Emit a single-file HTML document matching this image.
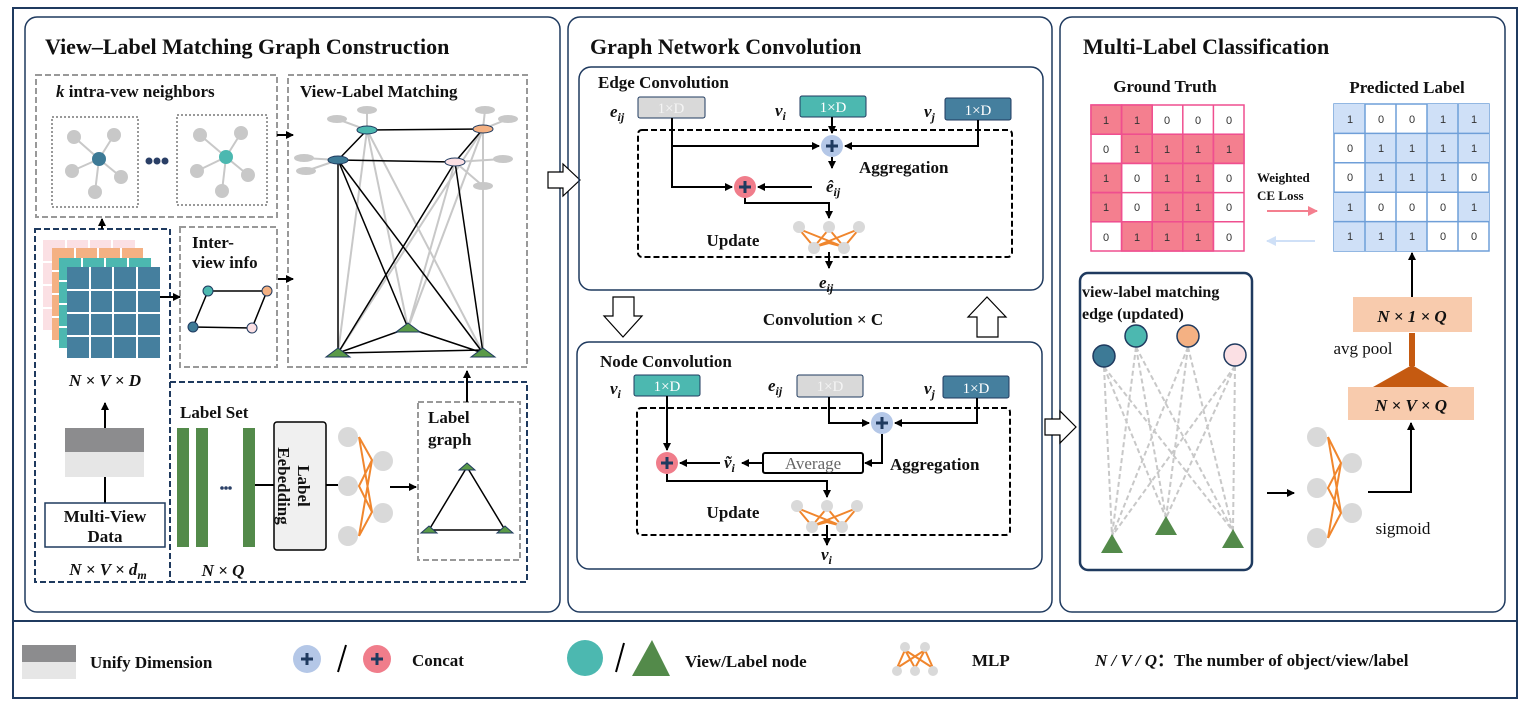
<!DOCTYPE html>
<html><head><meta charset="utf-8"><style>
body{margin:0;background:#fff}
svg{display:block}
text{font-family:"Liberation Serif",serif;font-weight:bold;fill:#111}
.t{font-size:22px}
.s{font-size:17px}
.it{font-style:italic}
.n{font-family:"Liberation Sans",sans-serif;font-weight:normal;font-size:11px;fill:#333}
</style></head><body>
<svg width="1527" height="728" viewBox="0 0 1527 728" xmlns="http://www.w3.org/2000/svg">
<defs>
<marker id="a" markerWidth="8" markerHeight="8" refX="7" refY="4" orient="auto" markerUnits="userSpaceOnUse"><path d="M0,0 L8,4 L0,8 z" fill="#000"/></marker>
<marker id="ap" markerWidth="10" markerHeight="10" refX="9" refY="5" orient="auto" markerUnits="userSpaceOnUse"><path d="M0,0 L10,5 L0,10 z" fill="#f47f8f"/></marker>
<marker id="ab" markerWidth="10" markerHeight="10" refX="9" refY="5" orient="auto" markerUnits="userSpaceOnUse"><path d="M0,0 L10,5 L0,10 z" fill="#cfe0f7"/></marker>
<g id="mlph">
<g stroke="#f0862d" stroke-width="2" fill="none"><path d="M-30,0 L-15,18 L0,0 L15,18 L30,0 M-30,0 L15,18 M30,0 L-15,18 M-15,18 L0,14 L15,18"/></g>
<g fill="#d9d9d9"><circle cx="-30" cy="-2" r="6"/><circle cx="0" cy="-2" r="6"/><circle cx="30" cy="-2" r="6"/><circle cx="-15" cy="19" r="6"/><circle cx="15" cy="19" r="6"/></g>
</g>
<path id="pl" d="M-6,-1.5 H-1.5 V-6 H1.5 V-1.5 H6 V1.5 H1.5 V6 H-1.5 V1.5 H-6 z" fill="#1f3a5f"/>
</defs>
<rect x="13" y="8" width="1504" height="690" fill="none" stroke="#1f3a5f" stroke-width="2"/>
<line x1="13" y1="621" x2="1517" y2="621" stroke="#1f3a5f" stroke-width="2"/>
<rect x="25" y="17" width="535" height="595" rx="12" fill="none" stroke="#1f3a5f" stroke-width="1.5"/>
<rect x="568" y="17" width="484" height="595" rx="12" fill="none" stroke="#1f3a5f" stroke-width="1.5"/>
<rect x="1060" y="17" width="445" height="595" rx="12" fill="none" stroke="#1f3a5f" stroke-width="1.5"/>
<text class="t" x="45" y="54">View–Label Matching Graph Construction</text>
<text class="t" x="590" y="54">Graph Network Convolution</text>
<text class="t" x="1083" y="54">Multi-Label Classification</text>

<!-- ===== PANEL 1 ===== -->
<rect x="36" y="75" width="241" height="142" fill="none" stroke="#999" stroke-width="2" stroke-dasharray="6,3"/>
<text class="s" x="56" y="97"><tspan class="it">k</tspan> intra-vew neighbors</text>
<rect x="52" y="117" width="86" height="90" fill="none" stroke="#999" stroke-width="2" stroke-dasharray="2,2"/>
<rect x="177" y="115" width="90" height="90" fill="none" stroke="#999" stroke-width="2" stroke-dasharray="2,2"/>
<g stroke="#c8c8c8" stroke-width="2">
<line x1="99" y1="159" x2="74" y2="137"/><line x1="99" y1="159" x2="114" y2="135"/><line x1="99" y1="159" x2="72" y2="171"/><line x1="99" y1="159" x2="121" y2="177"/><line x1="99" y1="159" x2="95" y2="192"/>
<line x1="226" y1="157" x2="200" y2="135"/><line x1="226" y1="157" x2="241" y2="133"/><line x1="226" y1="157" x2="197" y2="171"/><line x1="226" y1="157" x2="248" y2="175"/><line x1="226" y1="157" x2="222" y2="191"/>
</g>
<g fill="#c8c8c8">
<circle cx="74" cy="137" r="7"/><circle cx="114" cy="135" r="7"/><circle cx="72" cy="171" r="7"/><circle cx="121" cy="177" r="7"/><circle cx="95" cy="192" r="7"/>
<circle cx="200" cy="135" r="7"/><circle cx="241" cy="133" r="7"/><circle cx="197" cy="171" r="7"/><circle cx="248" cy="175" r="7"/><circle cx="222" cy="191" r="7"/>
</g>
<circle cx="99" cy="159" r="7" fill="#3d7a96"/><circle cx="226" cy="157" r="7" fill="#4cb8b0"/>
<g fill="#2a3f66"><circle cx="149" cy="161" r="3.5"/><circle cx="157" cy="161" r="3.5"/><circle cx="165" cy="161" r="3.5"/></g>

<rect x="288" y="75" width="239" height="292" fill="none" stroke="#999" stroke-width="2" stroke-dasharray="6,3"/>
<text class="s" x="300" y="97">View-Label Matching</text>
<g stroke="#c8c8c8" stroke-width="2">
<line x1="367" y1="130" x2="367" y2="110"/><line x1="367" y1="130" x2="337" y2="119"/><line x1="338" y1="160" x2="304" y2="158"/><line x1="338" y1="160" x2="306" y2="171"/>
<line x1="483" y1="129" x2="485" y2="110"/><line x1="483" y1="129" x2="508" y2="119"/><line x1="455" y1="162" x2="503" y2="159"/><line x1="455" y1="162" x2="483" y2="186"/>
<line x1="367" y1="130" x2="338" y2="353"/><line x1="367" y1="130" x2="408" y2="328"/><line x1="367" y1="130" x2="483" y2="353"/>
<line x1="483" y1="129" x2="338" y2="353"/><line x1="483" y1="129" x2="408" y2="328"/><line x1="483" y1="129" x2="483" y2="353"/>
<line x1="455" y1="162" x2="408" y2="328"/>
</g>
<g fill="#c8c8c8">
<ellipse cx="367" cy="110" rx="10" ry="4"/><ellipse cx="337" cy="119" rx="10" ry="4"/><ellipse cx="304" cy="158" rx="10" ry="4"/><ellipse cx="306" cy="171" rx="10" ry="4"/>
<ellipse cx="485" cy="110" rx="10" ry="4"/><ellipse cx="508" cy="119" rx="10" ry="4"/><ellipse cx="503" cy="159" rx="10" ry="4"/><ellipse cx="483" cy="186" rx="10" ry="4"/>
</g>
<g stroke="#000" stroke-width="1.5">
<line x1="367" y1="130" x2="483" y2="129"/><line x1="338" y1="160" x2="455" y2="162"/><line x1="367" y1="130" x2="338" y2="160"/><line x1="483" y1="129" x2="455" y2="162"/>
<line x1="338" y1="160" x2="338" y2="353"/><line x1="338" y1="160" x2="408" y2="328"/><line x1="338" y1="160" x2="483" y2="353"/>
<line x1="455" y1="162" x2="338" y2="353"/><line x1="455" y1="162" x2="483" y2="353"/>
<line x1="338" y1="353" x2="408" y2="328"/><line x1="408" y1="328" x2="483" y2="353"/><line x1="338" y1="353" x2="483" y2="350"/>
</g>
<g stroke="#1f3a5f" stroke-width="1">
<ellipse cx="367" cy="130" rx="10" ry="4" fill="#4cb8b0"/><ellipse cx="483" cy="129" rx="10" ry="4" fill="#f4b183"/>
<ellipse cx="338" cy="160" rx="10" ry="4" fill="#3d7a96"/><ellipse cx="455" cy="162" rx="10" ry="4" fill="#fbe0e4"/>
<path d="M338,348 L350,357 L326,357 z" fill="#5a9a48"/><path d="M408,323 L420,332 L396,332 z" fill="#5a9a48"/><path d="M483,348 L495,357 L471,357 z" fill="#5a9a48"/>
</g>
<line x1="277" y1="135" x2="293" y2="135" stroke="#000" stroke-width="2" marker-end="url(#a)"/>
<line x1="277" y1="279" x2="293" y2="279" stroke="#000" stroke-width="2" marker-end="url(#a)"/>

<path d="M35,229 H170 V582 H35 z" fill="none" stroke="#1f3a5f" stroke-width="2" stroke-dasharray="6,3"/>
<path d="M170,382 H527 V582 H170" fill="none" stroke="#1f3a5f" stroke-width="2" stroke-dasharray="6,3"/>
<line x1="102" y1="229" x2="102" y2="219" stroke="#000" stroke-width="2" marker-end="url(#a)"/>
<rect x="43" y="240" width="92" height="90" fill="#fbe0e4"/>
<rect x="52" y="248" width="91" height="92" fill="#f4b183"/>
<rect x="59" y="258" width="92" height="90" fill="#4cb8b0"/>
<g stroke="#fff" stroke-width="2"><line x1="43" y1="262" x2="52" y2="262"/><line x1="43" y1="285" x2="52" y2="285"/><line x1="43" y1="308" x2="52" y2="308"/><line x1="66" y1="240" x2="66" y2="248"/><line x1="89" y1="240" x2="89" y2="248"/><line x1="112" y1="240" x2="112" y2="248"/>
<line x1="52" y1="271" x2="59" y2="271"/><line x1="52" y1="294" x2="59" y2="294"/><line x1="52" y1="317" x2="59" y2="317"/><line x1="75" y1="248" x2="75" y2="258"/><line x1="98" y1="248" x2="98" y2="258"/><line x1="121" y1="248" x2="121" y2="258"/>
<line x1="59" y1="281" x2="67" y2="281"/><line x1="59" y1="304" x2="67" y2="304"/><line x1="59" y1="327" x2="67" y2="327"/><line x1="82" y1="258" x2="82" y2="267"/><line x1="105" y1="258" x2="105" y2="267"/><line x1="128" y1="258" x2="128" y2="267"/></g>
<rect x="67" y="267" width="93" height="91" fill="#457f9e"/>
<g stroke="#fff" stroke-width="2"><line x1="90" y1="267" x2="90" y2="358"/><line x1="113" y1="267" x2="113" y2="358"/><line x1="137" y1="267" x2="137" y2="358"/><line x1="67" y1="290" x2="160" y2="290"/><line x1="67" y1="313" x2="160" y2="313"/><line x1="67" y1="336" x2="160" y2="336"/></g>
<line x1="160" y1="297" x2="180" y2="297" stroke="#000" stroke-width="2" marker-end="url(#a)"/>
<rect x="180" y="227" width="97" height="140" fill="none" stroke="#999" stroke-width="2" stroke-dasharray="6,3"/>
<text class="s" x="192" y="248">Inter-</text>
<text class="s" x="192" y="268">view info</text>
<path d="M208,291 L267,291 L252,328 L193,327 z" fill="none" stroke="#000" stroke-width="1.5"/>
<g stroke="#1f3a5f" stroke-width="1"><circle cx="208" cy="291" r="5" fill="#4cb8b0"/><circle cx="267" cy="291" r="5" fill="#f4b183"/><circle cx="193" cy="327" r="5" fill="#3d7a96"/><circle cx="252" cy="328" r="5" fill="#fbe0e4"/></g>
<text class="s it" x="105" y="386" text-anchor="middle">N × V × D</text>
<line x1="105" y1="428" x2="105" y2="403" stroke="#000" stroke-width="2" marker-end="url(#a)"/>
<rect x="65" y="428" width="79" height="24" fill="#8c8c8e"/><rect x="65" y="452" width="79" height="25" fill="#e6e6e6"/>
<line x1="105" y1="477" x2="105" y2="503" stroke="#000" stroke-width="2"/>
<rect x="45" y="503" width="120" height="44" fill="#fff" stroke="#1f3a5f" stroke-width="1.5"/>
<text class="s" x="105" y="522" text-anchor="middle" font-size="16">Multi-View</text>
<text class="s" x="105" y="542" text-anchor="middle" font-size="16">Data</text>
<text class="s it" x="108" y="575" text-anchor="middle">N × V × d<tspan font-size="12" dy="4">m</tspan></text>
<text class="s" x="180" y="418">Label Set</text>
<g fill="#538a4a"><rect x="177" y="428" width="12" height="119"/><rect x="196" y="428" width="12" height="119"/><rect x="243" y="428" width="12" height="119"/></g>
<g fill="#2a3f66"><circle cx="222" cy="488" r="1.8"/><circle cx="226" cy="488" r="1.8"/><circle cx="230" cy="488" r="1.8"/></g>
<line x1="255" y1="485" x2="274" y2="485" stroke="#000" stroke-width="2"/>
<rect x="274" y="422" width="52" height="128" rx="3" fill="#f0f0f0" stroke="#000" stroke-width="1.5"/>
<text class="s" transform="translate(292,486) rotate(90)" text-anchor="middle" y="-6">Label</text>
<text class="s" transform="translate(292,486) rotate(90)" text-anchor="middle" y="14">Eebedding</text>
<line x1="326" y1="485" x2="338" y2="485" stroke="#000" stroke-width="2"/>
<g stroke="#f0862d" stroke-width="2" fill="none"><path d="M359,437 L372,460 L359,486 L372,512 L359,536 M359,437 L372,512 M359,536 L372,460"/></g>
<g fill="#d9d9d9"><circle cx="348" cy="437" r="10"/><circle cx="348" cy="486" r="10"/><circle cx="348" cy="536" r="10"/><circle cx="383" cy="461" r="10"/><circle cx="383" cy="513" r="10"/></g>
<line x1="390" y1="487" x2="416" y2="487" stroke="#000" stroke-width="2" marker-end="url(#a)"/>
<text class="s it" x="223" y="576" text-anchor="middle">N × Q</text>
<rect x="418" y="402" width="102" height="158" fill="none" stroke="#999" stroke-width="2" stroke-dasharray="6,3"/>
<text class="s" x="428" y="423">Label</text>
<text class="s" x="428" y="445">graph</text>
<path d="M467,467 L505,530 L429,530 z" fill="none" stroke="#000" stroke-width="1.5"/>
<g stroke="#1f3a5f" stroke-width="1" fill="#5a9a48"><path d="M467,463 L475,470 L459,470 z"/><path d="M429,526 L437,533 L421,533 z"/><path d="M505,526 L513,533 L497,533 z"/></g>
<line x1="467" y1="402" x2="467" y2="371" stroke="#000" stroke-width="2" marker-end="url(#a)"/>

<path d="M548,172 H563 V164 L580,180 L563,196 V188 H548 z" fill="#fff" stroke="#000" stroke-width="1.2"/>
<path d="M1045,419 H1060 V411 L1076,427 L1060,443 V435 H1045 z" fill="#fff" stroke="#000" stroke-width="1.2"/>
<path d="M613,297 H634 V316 H642 L623,337 L604,316 H613 z" fill="#fff" stroke="#000" stroke-width="1.2"/>
<path d="M977,337 H998 V317 H1006 L987,297 L968,317 H977 z" fill="#fff" stroke="#000" stroke-width="1.2"/>
<text class="s" x="823" y="325" text-anchor="middle">Convolution × C</text>

<!-- ===== PANEL 2 ===== -->
<rect x="579" y="67" width="464" height="223" rx="12" fill="none" stroke="#1f3a5f" stroke-width="1.5"/>
<text class="s" x="598" y="88">Edge Convolution</text>
<text class="s it" x="610" y="117">e<tspan font-size="12" dy="4">ij</tspan></text>
<rect x="638" y="97" width="67" height="21" rx="2" fill="#d9d9d9" stroke="#1f3a5f"/>
<text x="671" y="113" text-anchor="middle" font-size="15" style="font-weight:normal;fill:#f4f4f4">1×D</text>
<text class="s it" x="775" y="116">v<tspan font-size="12" dy="4">i</tspan></text>
<rect x="800" y="96" width="66" height="21" rx="2" fill="#4cb8b0" stroke="#1f3a5f"/>
<text x="833" y="112" text-anchor="middle" font-size="15" style="font-weight:normal;fill:#fff">1×D</text>
<text class="s it" x="924" y="117">v<tspan font-size="12" dy="4">j</tspan></text>
<rect x="945" y="98" width="66" height="22" rx="2" fill="#457f9e" stroke="#1f3a5f"/>
<text x="978" y="115" text-anchor="middle" font-size="15" style="font-weight:normal;fill:#fff">1×D</text>
<rect x="638" y="130" width="374" height="127" rx="4" fill="none" stroke="#000" stroke-width="2" stroke-dasharray="6,3"/>
<g stroke="#000" stroke-width="2" fill="none">
<path d="M672,118 V187 H732" marker-end="url(#a)"/>
<path d="M672,146 H819" marker-end="url(#a)"/>
<path d="M832,117 V133" marker-end="url(#a)"/>
<path d="M978,120 V146 H845" marker-end="url(#a)"/>
<path d="M832,157 V168" marker-end="url(#a)"/>
<path d="M812,187 H758" marker-end="url(#a)"/>
<path d="M745,198 V203 H829 V218" marker-end="url(#a)"/>
<path d="M829,252 V268" marker-end="url(#a)"/>
</g>
<circle cx="832" cy="146" r="11" fill="#b4c7e7"/><use href="#pl" x="832" y="146"/>
<circle cx="745" cy="187" r="11" fill="#f07d8b"/><use href="#pl" x="745" y="187"/>
<text class="s" x="859" y="173">Aggregation</text>
<text class="s it" x="826" y="192">ê<tspan font-size="12" dy="4">ij</tspan></text>
<text class="s" x="733" y="246" text-anchor="middle">Update</text>
<use href="#mlph" transform="translate(829,229)"/>
<text class="s it" x="819" y="288">e<tspan font-size="12" dy="4">ij</tspan></text>

<rect x="577" y="342" width="465" height="227" rx="12" fill="none" stroke="#1f3a5f" stroke-width="1.5"/>
<text class="s" x="600" y="367">Node Convolution</text>
<text class="s it" x="610" y="394">v<tspan font-size="12" dy="4">i</tspan></text>
<rect x="634" y="375" width="66" height="21" rx="2" fill="#4cb8b0" stroke="#1f3a5f"/>
<text x="667" y="391" text-anchor="middle" font-size="15" style="font-weight:normal;fill:#fff">1×D</text>
<text class="s it" x="768" y="391">e<tspan font-size="12" dy="4">ij</tspan></text>
<rect x="797" y="375" width="66" height="22" rx="2" fill="#d9d9d9" stroke="#1f3a5f"/>
<text x="830" y="391" text-anchor="middle" font-size="15" style="font-weight:normal;fill:#f4f4f4">1×D</text>
<text class="s it" x="924" y="394">v<tspan font-size="12" dy="4">j</tspan></text>
<rect x="943" y="376" width="66" height="22" rx="2" fill="#457f9e" stroke="#1f3a5f"/>
<text x="976" y="393" text-anchor="middle" font-size="15" style="font-weight:normal;fill:#fff">1×D</text>
<rect x="637" y="408" width="373" height="127" rx="4" fill="none" stroke="#000" stroke-width="2" stroke-dasharray="6,3"/>
<g stroke="#000" stroke-width="2" fill="none">
<path d="M667,396 V450" marker-end="url(#a)"/>
<path d="M829,397 V423 H869" marker-end="url(#a)"/>
<path d="M977,398 V423 H895" marker-end="url(#a)"/>
<path d="M882,434 V463 H865" marker-end="url(#a)"/>
<path d="M763,463 H742" marker-end="url(#a)"/>
<path d="M720,463 H680" marker-end="url(#a)"/>
<path d="M667,474 V481 H827 V497" marker-end="url(#a)"/>
<path d="M827,525 V545" marker-end="url(#a)"/>
</g>
<circle cx="882" cy="423" r="11" fill="#b4c7e7"/><use href="#pl" x="882" y="423"/>
<circle cx="667" cy="463" r="11" fill="#f07d8b"/><use href="#pl" x="667" y="463"/>
<text class="s" x="890" y="470">Aggregation</text>
<rect x="763" y="453" width="100" height="20" rx="2" fill="#fff" stroke="#000" stroke-width="2"/>
<text x="813" y="469" text-anchor="middle" font-size="17" style="font-weight:normal;fill:#666">Average</text>
<text class="s it" x="724" y="468">ṽ<tspan font-size="12" dy="4">i</tspan></text>
<text class="s" x="733" y="518" text-anchor="middle">Update</text>
<use href="#mlph" transform="translate(827,508)"/>
<text class="s it" x="821" y="560">v<tspan font-size="12" dy="4">i</tspan></text>

<!-- ===== PANEL 3 ===== -->
<text class="s" x="1165" y="92" text-anchor="middle">Ground Truth</text>
<text class="s" x="1407" y="93" text-anchor="middle">Predicted Label</text>
<rect x="1091" y="105" width="153" height="146" fill="#fff" stroke="#ef4f8f" stroke-width="1.5"/>
<g stroke="#ef4f8f" stroke-width="1.5" fill="#f47f8f">
<rect x="1091" y="105" width="30.6" height="29.2"/><rect x="1121.6" y="105" width="30.6" height="29.2"/>
<rect x="1121.6" y="134.2" width="30.6" height="29.2"/><rect x="1152.2" y="134.2" width="30.6" height="29.2"/><rect x="1182.8" y="134.2" width="30.6" height="29.2"/><rect x="1213.4" y="134.2" width="30.6" height="29.2"/>
<rect x="1091" y="163.4" width="30.6" height="29.2"/><rect x="1152.2" y="163.4" width="30.6" height="29.2"/><rect x="1182.8" y="163.4" width="30.6" height="29.2"/>
<rect x="1091" y="192.6" width="30.6" height="29.2"/><rect x="1152.2" y="192.6" width="30.6" height="29.2"/><rect x="1182.8" y="192.6" width="30.6" height="29.2"/>
<rect x="1121.6" y="221.8" width="30.6" height="29.2"/><rect x="1152.2" y="221.8" width="30.6" height="29.2"/><rect x="1182.8" y="221.8" width="30.6" height="29.2"/>
</g>
<g stroke="#ef4f8f" stroke-width="1.5"><line x1="1121.6" y1="105" x2="1121.6" y2="251"/><line x1="1152.2" y1="105" x2="1152.2" y2="251"/><line x1="1182.8" y1="105" x2="1182.8" y2="251"/><line x1="1213.4" y1="105" x2="1213.4" y2="251"/><line x1="1091" y1="134.2" x2="1244" y2="134.2"/><line x1="1091" y1="163.4" x2="1244" y2="163.4"/><line x1="1091" y1="192.6" x2="1244" y2="192.6"/><line x1="1091" y1="221.8" x2="1244" y2="221.8"/></g>
<g text-anchor="middle">
<text class="n" x="1106" y="124">1</text><text class="n" x="1137" y="124">1</text><text class="n" x="1167" y="124">0</text><text class="n" x="1198" y="124">0</text><text class="n" x="1229" y="124">0</text>
<text class="n" x="1106" y="153">0</text><text class="n" x="1137" y="153">1</text><text class="n" x="1167" y="153">1</text><text class="n" x="1198" y="153">1</text><text class="n" x="1229" y="153">1</text>
<text class="n" x="1106" y="182">1</text><text class="n" x="1137" y="182">0</text><text class="n" x="1167" y="182">1</text><text class="n" x="1198" y="182">1</text><text class="n" x="1229" y="182">0</text>
<text class="n" x="1106" y="211">1</text><text class="n" x="1137" y="211">0</text><text class="n" x="1167" y="211">1</text><text class="n" x="1198" y="211">1</text><text class="n" x="1229" y="211">0</text>
<text class="n" x="1106" y="241">0</text><text class="n" x="1137" y="241">1</text><text class="n" x="1167" y="241">1</text><text class="n" x="1198" y="241">1</text><text class="n" x="1229" y="241">0</text>
</g>
<rect x="1334" y="104" width="155" height="147" fill="#fff" stroke="#6f9fd8" stroke-width="1.5"/>
<g fill="#cfe0f7">
<rect x="1334" y="104" width="31" height="29.4"/><rect x="1427" y="104" width="31" height="29.4"/><rect x="1458" y="104" width="31" height="29.4"/>
<rect x="1365" y="133.4" width="31" height="29.4"/><rect x="1396" y="133.4" width="31" height="29.4"/><rect x="1427" y="133.4" width="31" height="29.4"/><rect x="1458" y="133.4" width="31" height="29.4"/>
<rect x="1365" y="162.8" width="31" height="29.4"/><rect x="1396" y="162.8" width="31" height="29.4"/><rect x="1427" y="162.8" width="31" height="29.4"/>
<rect x="1334" y="192.2" width="31" height="29.4"/><rect x="1458" y="192.2" width="31" height="29.4"/>
<rect x="1334" y="221.6" width="31" height="29.4"/><rect x="1365" y="221.6" width="31" height="29.4"/><rect x="1396" y="221.6" width="31" height="29.4"/>
</g>
<g stroke="#6f9fd8" stroke-width="1.5"><line x1="1365" y1="104" x2="1365" y2="251"/><line x1="1396" y1="104" x2="1396" y2="251"/><line x1="1427" y1="104" x2="1427" y2="251"/><line x1="1458" y1="104" x2="1458" y2="251"/><line x1="1334" y1="133.4" x2="1489" y2="133.4"/><line x1="1334" y1="162.8" x2="1489" y2="162.8"/><line x1="1334" y1="192.2" x2="1489" y2="192.2"/><line x1="1334" y1="221.6" x2="1489" y2="221.6"/></g>
<g text-anchor="middle">
<text class="n" x="1350" y="123">1</text><text class="n" x="1381" y="123">0</text><text class="n" x="1412" y="123">0</text><text class="n" x="1443" y="123">1</text><text class="n" x="1474" y="123">1</text>
<text class="n" x="1350" y="152">0</text><text class="n" x="1381" y="152">1</text><text class="n" x="1412" y="152">1</text><text class="n" x="1443" y="152">1</text><text class="n" x="1474" y="152">1</text>
<text class="n" x="1350" y="181">0</text><text class="n" x="1381" y="181">1</text><text class="n" x="1412" y="181">1</text><text class="n" x="1443" y="181">1</text><text class="n" x="1474" y="181">0</text>
<text class="n" x="1350" y="211">1</text><text class="n" x="1381" y="211">0</text><text class="n" x="1412" y="211">0</text><text class="n" x="1443" y="211">0</text><text class="n" x="1474" y="211">1</text>
<text class="n" x="1350" y="240">1</text><text class="n" x="1381" y="240">1</text><text class="n" x="1412" y="240">1</text><text class="n" x="1443" y="240">0</text><text class="n" x="1474" y="240">0</text>
</g>
<text x="1257" y="182" font-size="13">Weighted</text>
<text x="1257" y="200" font-size="13">CE Loss</text>
<line x1="1267" y1="211" x2="1317" y2="211" stroke="#f47f8f" stroke-width="2" marker-end="url(#ap)"/>
<line x1="1315" y1="241" x2="1267" y2="241" stroke="#cfe0f7" stroke-width="2" marker-end="url(#ab)"/>

<rect x="1080" y="273" width="172" height="297" rx="8" fill="none" stroke="#1f3a5f" stroke-width="2.5"/>
<text x="1082" y="297" font-size="16">view-label matching</text>
<text x="1082" y="319" font-size="16">edge (updated)</text>
<g stroke="#c8c8c8" stroke-width="2" stroke-dasharray="5,3">
<line x1="1104" y1="367" x2="1112" y2="536"/><line x1="1104" y1="367" x2="1166" y2="518"/><line x1="1104" y1="367" x2="1233" y2="531"/>
<line x1="1136" y1="347" x2="1112" y2="536"/><line x1="1136" y1="347" x2="1166" y2="518"/><line x1="1136" y1="347" x2="1233" y2="531"/>
<line x1="1188" y1="347" x2="1112" y2="536"/><line x1="1188" y1="347" x2="1166" y2="518"/><line x1="1188" y1="347" x2="1233" y2="531"/>
<line x1="1235" y1="366" x2="1112" y2="536"/><line x1="1235" y1="366" x2="1166" y2="518"/><line x1="1235" y1="366" x2="1233" y2="531"/>
</g>
<g stroke="#1f3a5f" stroke-width="1.5">
<circle cx="1104" cy="356" r="11" fill="#3d7a96"/><circle cx="1136" cy="336" r="11" fill="#4cb8b0"/><circle cx="1188" cy="336" r="11" fill="#f4b183"/><circle cx="1235" cy="355" r="11" fill="#fbe0e4"/>
</g>
<g fill="#538a4a"><path d="M1112,534 L1123,553 L1101,553 z"/><path d="M1166,516 L1177,535 L1155,535 z"/><path d="M1233,529 L1244,548 L1222,548 z"/></g>

<line x1="1267" y1="493" x2="1294" y2="493" stroke="#000" stroke-width="2" marker-end="url(#a)"/>
<g stroke="#f0862d" stroke-width="2" fill="none"><path d="M1328,437 L1341,463 L1328,488 L1341,513 L1328,538 M1328,437 L1341,513 M1328,538 L1341,463"/></g>
<g fill="#d9d9d9"><circle cx="1317" cy="437" r="10"/><circle cx="1317" cy="488" r="10"/><circle cx="1317" cy="538" r="10"/><circle cx="1352" cy="463" r="10"/><circle cx="1352" cy="513" r="10"/></g>
<path d="M1368,492 H1411 V423" fill="none" stroke="#000" stroke-width="2" marker-end="url(#a)"/>
<text x="1403" y="534" text-anchor="middle" font-size="17" style="font-weight:normal">sigmoid</text>
<rect x="1409" y="333" width="6" height="33" fill="#c55a11"/>
<path d="M1412,365 L1449,387 L1373,387 z" fill="#c55a11"/>
<rect x="1348" y="387" width="126" height="33" fill="#f8cbad"/>
<text class="s it" x="1411" y="411" text-anchor="middle" font-size="19">N × V × Q</text>
<rect x="1353" y="297" width="119" height="35" fill="#f8cbad"/>
<text class="s it" x="1412" y="322" text-anchor="middle" font-size="19">N × 1 × Q</text>
<text x="1363" y="354" text-anchor="middle" font-size="17" style="font-weight:normal">avg pool</text>
<line x1="1412" y1="297" x2="1412" y2="253" stroke="#000" stroke-width="2" marker-end="url(#a)"/>

<!-- ===== LEGEND ===== -->
<rect x="22" y="645" width="54" height="17" fill="#8c8c8e"/><rect x="22" y="662" width="54" height="17" fill="#e6e6e6"/>
<text x="90" y="668" font-size="17">Unify Dimension</text>
<circle cx="307" cy="659" r="14" fill="#b4c7e7"/><use href="#pl" x="307" y="659"/>
<line x1="346" y1="645" x2="338" y2="672" stroke="#000" stroke-width="2"/>
<circle cx="377" cy="659" r="14" fill="#f07d8b"/><use href="#pl" x="377" y="659"/>
<text x="412" y="666" font-size="17">Concat</text>
<circle cx="585" cy="658" r="18" fill="#4cb8b0"/>
<line x1="624" y1="643" x2="616" y2="672" stroke="#000" stroke-width="2"/>
<path d="M652,640 L670,676 L632,676 z" fill="#538a4a"/>
<text x="685" y="667" font-size="17">View/Label node</text>
<g transform="translate(915,650)">
<g stroke="#f0862d" stroke-width="2" fill="none"><path d="M-10,0 L-18,18 M-10,0 L0,18 M-10,0 L18,18 M10,0 L18,18 M10,0 L0,18 M10,0 L-18,18"/></g>
<g fill="#d9d9d9"><circle cx="-10" cy="-3" r="5"/><circle cx="10" cy="-3" r="5"/><circle cx="-18" cy="21" r="5"/><circle cx="0" cy="21" r="5"/><circle cx="18" cy="21" r="5"/></g>
</g>
<text x="972" y="666" font-size="17">MLP</text>
<text x="1095" y="666" font-size="17"><tspan font-style="italic">N / V / Q</tspan>：The number of object/view/label</text>
</svg>
</body></html>
